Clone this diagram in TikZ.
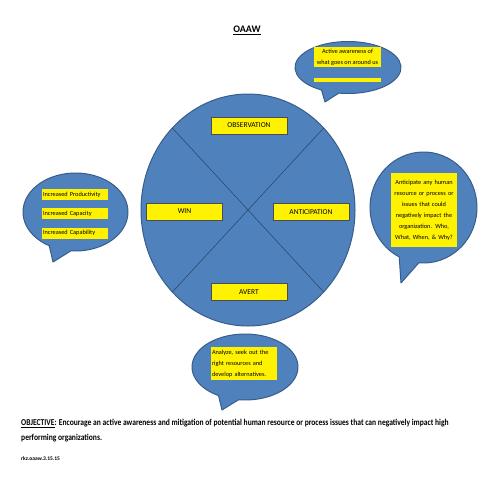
\documentclass[tikz,border=0pt]{standalone}
\usepackage{fontspec}
\setmainfont{Carlito}
\newfontfamily\squeezed[FakeStretch=0.84]{Carlito}
\definecolor{shapeblue}{HTML}{4F81BD}
\definecolor{shapeline}{HTML}{385D8A}
\definecolor{splitline}{HTML}{2C4A70}

\tikzset{
  bubble/.style={fill=shapeblue, draw=shapeline, line width=1pt, line join=round},
  labelbox/.style={fill=yellow, draw=black!70, line width=0.8pt, minimum width=76pt,
    minimum height=17pt, inner sep=0pt, font=\fontsize{7.5}{8}\selectfont},
  notebox/.style={fill=yellow, inner sep=1pt, font=\fontsize{6.3}{11}\selectfont},
}

\begin{document}
\begin{tikzpicture}[x=1pt, y=-1pt]
  \useasboundingbox[fill=white] (0,0) rectangle (495,495);
  \node[font=\bfseries\fontsize{10}{12}\selectfont] (title) at (247,30) {\underline{OAAW}};

  % the four-part circle
  \coordinate (hub) at (248,210);
  \draw[bubble] (hub) ellipse[x radius=107, y radius=116];
  \draw[splitline, line width=0.6pt] ([shift={(225:107 and 116)}]hub) -- ([shift={(45:107 and 116)}]hub);
  \draw[splitline, line width=0.6pt] ([shift={(315:107 and 116)}]hub) -- ([shift={(135:107 and 116)}]hub);
  \node[labelbox] (obs)   at (249,125.5) {OBSERVATION};
  \node[labelbox] (win)   at (184.5,211.5) {WIN};
  \node[labelbox] (antic) at (311,212) {ANTICIPATION};
  \node[labelbox] (avert) at (249,292) {AVERT};

  % top bubble
  \coordinate (topc) at (348,67.5);
  \draw[bubble] ([shift={(100:53 and 26)}]topc) -- (325,102) -- ([shift={(120:53 and 26)}]topc)
    arc[start angle=120, end angle=460, x radius=53, y radius=26] -- cycle;
  \node[notebox, minimum width=67pt, minimum height=20pt, align=center] (aware) at (347.5,57)
    {Active awareness of\\what goes on around us};
  \node[fill=yellow, minimum width=67pt, minimum height=4pt, inner sep=0pt] (bar) at (347.5,80.3) {};

  % left bubble
  \coordinate (leftc) at (75.5,212);
  \draw[bubble] ([shift={(95:52.5 and 39)}]leftc) -- (53,262) -- ([shift={(120:52.5 and 39)}]leftc)
    arc[start angle=120, end angle=455, x radius=52.5, y radius=39] -- cycle;
  \node[notebox, text width=64pt, minimum height=11pt, align=left] (prod) at (75,194.5) {Increased Productivity};
  \node[notebox, text width=64pt, minimum height=11pt, align=left] (capa) at (75,213.5) {Increased Capacity};
  \node[notebox, text width=64pt, minimum height=11pt, align=left] (capb) at (75,233) {Increased Capability};

  % right bubble
  \coordinate (rightc) at (423.5,207.5);
  \draw[bubble] ([shift={(95:53.5 and 55.5)}]rightc) -- (401,283) -- ([shift={(117:53.5 and 55.5)}]rightc)
    arc[start angle=117, end angle=455, x radius=53.5, y radius=55.5] -- cycle;
  \node[notebox, text width=64pt, minimum height=74pt, align=center] (ask) at (424,210)
    {Anticipate any human\\resource or process or\\issues that could\\negatively impact the\\organization. Who,\\What, When, \& Why?};

  % bottom bubble
  \coordinate (lowc) at (245,367);
  \draw[bubble] ([shift={(97:53 and 33)}]lowc) -- (222,410) -- ([shift={(120:53 and 33)}]lowc)
    arc[start angle=120, end angle=457, x radius=53, y radius=33] -- cycle;
  \node[notebox, text width=64pt, minimum height=33pt, align=left] (plan) at (244,363.5)
    {Analyze, seek out the\\right resources and\\develop alternatives.};

  % objective
  \node[anchor=west, align=left, inner sep=0pt, font=\squeezed\bfseries\fontsize{9}{15}\selectfont] (goal) at (21,430.5)
    {\underline{OBJECTIVE}: Encourage an active awareness and mitigation of potential human resource or process issues that can negatively impact high\\performing organizations.};
  \node[anchor=west, inner sep=0pt, font=\bfseries\fontsize{5.5}{6}\selectfont] (tag) at (21,458.3) {rkz.oaaw.3.15.15};
\end{tikzpicture}
\end{document}
